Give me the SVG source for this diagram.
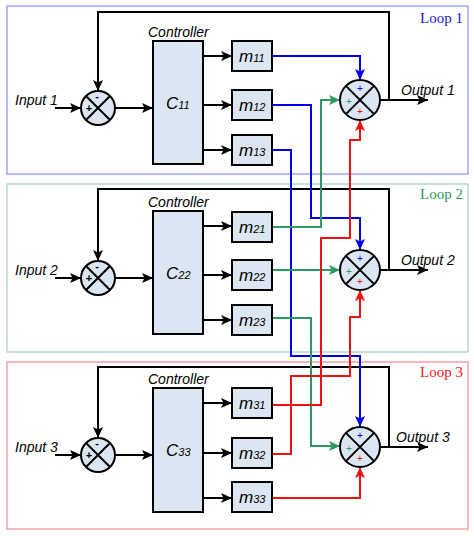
<svg xmlns="http://www.w3.org/2000/svg" width="474" height="536" viewBox="0 0 474 536">
<style>
.lbl{font-family:"Liberation Sans",Arial,sans-serif;font-style:italic;font-size:14px;fill:#000}
.sub{font-size:11px}
.big{font-size:17px}
.loop{font-family:"Liberation Serif","Times New Roman",serif;font-size:15px}
.blk{fill:#dce6f2;stroke:#000;stroke-width:2}
.ln{fill:none;stroke:#000;stroke-width:2}
.b{fill:none;stroke:#0000ee;stroke-width:2}
.g{fill:none;stroke:#2e9960;stroke-width:2}
.r{fill:none;stroke:#ee1111;stroke-width:2}
.sg{font-family:"Liberation Sans",Arial,sans-serif;font-size:10px;text-anchor:middle}
.sk{font-family:"Liberation Sans",Arial,sans-serif;font-size:11px;text-anchor:middle;font-weight:bold}
</style>
<defs>
<marker id="ak" markerUnits="userSpaceOnUse" markerWidth="11" markerHeight="10" refX="11" refY="5" orient="auto"><path d="M0,0 L11,5 L0,10 L2.5,5 z" fill="#000"/></marker>
<marker id="ab" markerUnits="userSpaceOnUse" markerWidth="11" markerHeight="10" refX="11" refY="5" orient="auto"><path d="M0,0 L11,5 L0,10 L2.5,5 z" fill="#0000ee"/></marker>
<marker id="ag" markerUnits="userSpaceOnUse" markerWidth="11" markerHeight="10" refX="11" refY="5" orient="auto"><path d="M0,0 L11,5 L0,10 L2.5,5 z" fill="#2e9960"/></marker>
<marker id="ar" markerUnits="userSpaceOnUse" markerWidth="11" markerHeight="10" refX="11" refY="5" orient="auto"><path d="M0,0 L11,5 L0,10 L2.5,5 z" fill="#ee1111"/></marker>
</defs>
<rect width="474" height="536" fill="#fff"/>

<!-- loop frames -->
<g id="loop1">
<rect x="7" y="6" width="461" height="168" fill="none" stroke="#8c8cf5" stroke-width="1.2"/>
<text class="loop" x="420" y="23" fill="#1a1ad0">Loop 1</text>
</g>
<g id="loop2">
<rect x="7" y="184" width="461" height="168" fill="none" stroke="#a3cdb9" stroke-width="1.2"/>
<text class="loop" x="420" y="199" fill="#2e9960">Loop 2</text>
</g>
<g id="loop3">
<rect x="7" y="362" width="461" height="167" fill="none" stroke="#f08c8c" stroke-width="1.2"/>
<text class="loop" x="420" y="377" fill="#e81a1a">Loop 3</text>
</g>

<!-- connectors -->
<g id="connectors">
<!-- loop 1 black -->
<line class="ln" x1="55" y1="108" x2="81" y2="108" marker-end="url(#ak)"/>
<line class="ln" x1="115" y1="108" x2="153" y2="108" marker-end="url(#ak)"/>
<path class="ln" d="M389,100 V12 H98 V91" marker-end="url(#ak)"/>
<line class="ln" x1="203" y1="56" x2="232" y2="56" marker-end="url(#ak)"/>
<line class="ln" x1="203" y1="105" x2="232" y2="105" marker-end="url(#ak)"/>
<line class="ln" x1="203" y1="150" x2="232" y2="150" marker-end="url(#ak)"/>
<line class="ln" x1="380" y1="100" x2="428" y2="100" marker-end="url(#ak)"/>
<!-- loop 2 black -->
<line class="ln" x1="55" y1="278" x2="81" y2="278" marker-end="url(#ak)"/>
<line class="ln" x1="115" y1="278" x2="153" y2="278" marker-end="url(#ak)"/>
<path class="ln" d="M389,270 V189 H98 V261" marker-end="url(#ak)"/>
<line class="ln" x1="203" y1="226" x2="232" y2="226" marker-end="url(#ak)"/>
<line class="ln" x1="203" y1="275" x2="232" y2="275" marker-end="url(#ak)"/>
<line class="ln" x1="203" y1="320" x2="232" y2="320" marker-end="url(#ak)"/>
<line class="ln" x1="380" y1="270" x2="428" y2="270" marker-end="url(#ak)"/>
<!-- loop 3 black -->
<line class="ln" x1="55" y1="455" x2="81" y2="455" marker-end="url(#ak)"/>
<line class="ln" x1="115" y1="455" x2="153" y2="455" marker-end="url(#ak)"/>
<path class="ln" d="M389,447 V367 H98 V438" marker-end="url(#ak)"/>
<line class="ln" x1="203" y1="403" x2="232" y2="403" marker-end="url(#ak)"/>
<line class="ln" x1="203" y1="453" x2="232" y2="453" marker-end="url(#ak)"/>
<line class="ln" x1="203" y1="498" x2="232" y2="498" marker-end="url(#ak)"/>
<line class="ln" x1="380" y1="447" x2="428" y2="447" marker-end="url(#ak)"/>
<!-- blue -->
<path class="b" d="M272,56 H360 V80" marker-end="url(#ab)"/>
<path class="b" d="M272,105 H311 V218 H360 V250" marker-end="url(#ab)"/>
<path class="b" d="M272,150 H291 V356 H360 V427" marker-end="url(#ab)"/>
<!-- green -->
<path class="g" d="M272,227 H321 V100 H340" marker-end="url(#ag)"/>
<path class="g" d="M272,270 H340" marker-end="url(#ag)"/>
<path class="g" d="M272,318 H311 V446 H340" marker-end="url(#ag)"/>
<!-- red -->
<path class="r" d="M272,405 H321 V238 H350 V140 H360 V120" marker-end="url(#ar)"/>
<path class="r" d="M272,454 H291 V376 H350 V317 H360 V290" marker-end="url(#ar)"/>
<path class="r" d="M272,498 H360 V467" stroke-width="2.6" marker-end="url(#ar)"/>
</g>

<!-- Loop 1 nodes -->
<g id="input1"><text class="lbl" x="15" y="105">Input 1</text></g>
<g id="sum1">
<circle class="blk" cx="98" cy="108" r="17"/>
<path class="ln" d="M86,96 L110,120 M110,96 L86,120"/>
<text class="sk" x="97" y="100">-</text><text class="sk" x="89" y="112">+</text>
</g>
<g id="controller1">
<text class="lbl" x="148" y="37">Controller</text>
<rect class="blk" x="153" y="41" width="50" height="123"/>
<text class="lbl" x="166" y="109"><tspan class="big">C</tspan><tspan class="sub">11</tspan></text>
</g>
<g id="m11"><rect class="blk" x="232" y="41" width="40" height="30"/><text class="lbl" x="239" y="62"><tspan class="big">m</tspan><tspan class="sub">11</tspan></text></g>
<g id="m12"><rect class="blk" x="232" y="90" width="40" height="30"/><text class="lbl" x="239" y="111"><tspan class="big">m</tspan><tspan class="sub">12</tspan></text></g>
<g id="m13"><rect class="blk" x="232" y="135" width="40" height="30"/><text class="lbl" x="239" y="156"><tspan class="big">m</tspan><tspan class="sub">13</tspan></text></g>
<g id="out1">
<circle class="blk" cx="360" cy="100" r="20"/>
<path class="ln" d="M345.9,85.9 L374.1,114.1 M374.1,85.9 L345.9,114.1"/>
<text class="sg" x="360" y="92" fill="#0000ee">+</text>
<text class="sg" x="349" y="105" fill="#2e9960">+</text>
<text class="sg" x="360" y="115" fill="#ee1111">+</text>
</g>
<g id="output1"><text class="lbl" x="401" y="95">Output 1</text></g>

<!-- Loop 2 nodes -->
<g id="input2"><text class="lbl" x="15" y="275">Input 2</text></g>
<g id="sum2">
<circle class="blk" cx="98" cy="278" r="17"/>
<path class="ln" d="M86,266 L110,290 M110,266 L86,290"/>
<text class="sk" x="97" y="270">-</text><text class="sk" x="89" y="282">+</text>
</g>
<g id="controller2">
<text class="lbl" x="148" y="207">Controller</text>
<rect class="blk" x="153" y="211" width="50" height="123"/>
<text class="lbl" x="166" y="279"><tspan class="big">C</tspan><tspan class="sub">22</tspan></text>
</g>
<g id="m21"><rect class="blk" x="232" y="212" width="40" height="30"/><text class="lbl" x="239" y="233"><tspan class="big">m</tspan><tspan class="sub">21</tspan></text></g>
<g id="m22"><rect class="blk" x="232" y="260" width="40" height="30"/><text class="lbl" x="239" y="281"><tspan class="big">m</tspan><tspan class="sub">22</tspan></text></g>
<g id="m23"><rect class="blk" x="232" y="305" width="40" height="30"/><text class="lbl" x="239" y="326"><tspan class="big">m</tspan><tspan class="sub">23</tspan></text></g>
<g id="out2">
<circle class="blk" cx="360" cy="270" r="20"/>
<path class="ln" d="M345.9,255.9 L374.1,284.1 M374.1,255.9 L345.9,284.1"/>
<text class="sg" x="360" y="262" fill="#0000ee">+</text>
<text class="sg" x="349" y="275" fill="#2e9960">+</text>
<text class="sg" x="360" y="285" fill="#ee1111">+</text>
</g>
<g id="output2"><text class="lbl" x="401" y="265">Output 2</text></g>

<!-- Loop 3 nodes -->
<g id="input3"><text class="lbl" x="15" y="452">Input 3</text></g>
<g id="sum3">
<circle class="blk" cx="98" cy="455" r="17"/>
<path class="ln" d="M86,443 L110,467 M110,443 L86,467"/>
<text class="sk" x="97" y="447">-</text><text class="sk" x="89" y="459">+</text>
</g>
<g id="controller3">
<text class="lbl" x="148" y="384">Controller</text>
<rect class="blk" x="153" y="388" width="50" height="124"/>
<text class="lbl" x="166" y="456"><tspan class="big">C</tspan><tspan class="sub">33</tspan></text>
</g>
<g id="m31"><rect class="blk" x="232" y="388" width="40" height="30"/><text class="lbl" x="239" y="409"><tspan class="big">m</tspan><tspan class="sub">31</tspan></text></g>
<g id="m32"><rect class="blk" x="232" y="438" width="40" height="30"/><text class="lbl" x="239" y="459"><tspan class="big">m</tspan><tspan class="sub">32</tspan></text></g>
<g id="m33"><rect class="blk" x="232" y="482" width="40" height="30"/><text class="lbl" x="239" y="503"><tspan class="big">m</tspan><tspan class="sub">33</tspan></text></g>
<g id="out3">
<circle class="blk" cx="360" cy="447" r="20"/>
<path class="ln" d="M345.9,432.9 L374.1,461.1 M374.1,432.9 L345.9,461.1"/>
<text class="sg" x="360" y="439" fill="#0000ee">+</text>
<text class="sg" x="349" y="452" fill="#2e9960">+</text>
<text class="sg" x="360" y="462" fill="#ee1111">+</text>
</g>
<g id="output3"><text class="lbl" x="396" y="442">Output 3</text></g>
</svg>
